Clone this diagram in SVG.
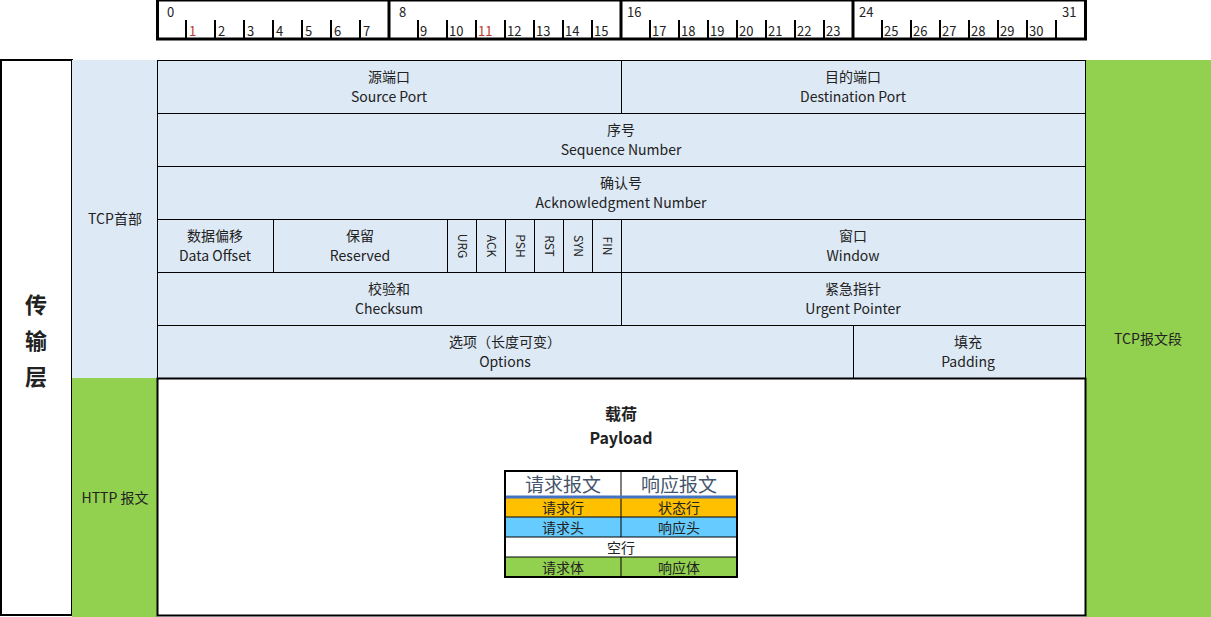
<svg xmlns="http://www.w3.org/2000/svg" width="1211" height="617" viewBox="0 0 1211 617">
<style>
text{font-family:"Microsoft YaHei","Noto Sans CJK SC","Liberation Sans",sans-serif;font-size:14px;fill:#222;text-anchor:middle}
.c{fill:#dde9f5;stroke:#000;stroke-width:1}
.t{stroke:#000;stroke-width:2}
.n{font-size:13px;text-anchor:start}
.v{font-size:12px}
</style>
<rect width="1211" height="617" fill="#fff"/>
<g id="ruler">
<rect x="157.5" y="0" width="928" height="39" fill="none" stroke="#000" stroke-width="3"/>
<g class="t">
<line x1="389" y1="0" x2="389" y2="39" stroke-width="3"/><line x1="621" y1="0" x2="621" y2="39" stroke-width="3"/><line x1="853" y1="0" x2="853" y2="39" stroke-width="3"/>
</g>
<g class="t" stroke-width="2">
<path d="M186 20V39M215 20V39M244 20V39M273 20V39M302 20V39M331 20V39M360 20V39M418 20V39M447 20V39M476 20V39M505 20V39M534 20V39M563 20V39M592 20V39M650 20V39M679 20V39M708 20V39M737 20V39M766 20V39M795 20V39M824 20V39M882 20V39M911 20V39M940 20V39M969 20V39M998 20V39M1027 20V39M1056 20V39"/>
</g>
<g class="n">
<text class="n" x="167" y="17">0</text><text class="n" x="399" y="17">8</text><text class="n" x="627" y="17">16</text><text class="n" x="859" y="17">24</text><text class="n" x="1062" y="17">31</text>
<text class="n" x="189" y="36" style="fill:#c0392b">1</text><text class="n" x="218" y="36">2</text><text class="n" x="247" y="36">3</text><text class="n" x="276" y="36">4</text><text class="n" x="305" y="36">5</text><text class="n" x="334" y="36">6</text><text class="n" x="363" y="36">7</text>
<text class="n" x="420" y="36">9</text><text class="n" x="449" y="36">10</text><text class="n" x="478" y="36" style="fill:#c0392b">11</text><text class="n" x="507" y="36">12</text><text class="n" x="536" y="36">13</text><text class="n" x="565" y="36">14</text><text class="n" x="594" y="36">15</text>
<text class="n" x="652" y="36">17</text><text class="n" x="681" y="36">18</text><text class="n" x="710" y="36">19</text><text class="n" x="739" y="36">20</text><text class="n" x="768" y="36">21</text><text class="n" x="797" y="36">22</text><text class="n" x="826" y="36">23</text>
<text class="n" x="884" y="36">25</text><text class="n" x="913" y="36">26</text><text class="n" x="942" y="36">27</text><text class="n" x="971" y="36">28</text><text class="n" x="1000" y="36">29</text><text class="n" x="1029" y="36">30</text>
</g>
</g>
<g id="layer"><rect x="1" y="60" width="71" height="555" fill="#fff" stroke="#000" stroke-width="2"/><text x="36" y="313" style="font-size:22px;font-weight:bold">传</text><text x="36" y="349" style="font-size:22px;font-weight:bold">输</text><text x="36" y="385" style="font-size:22px;font-weight:bold">层</text></g>
<g id="tcpheader"><rect x="72" y="60" width="85" height="318" fill="#dde9f5"/><text x="115" y="224">TCP首部</text></g>
<g id="http"><rect x="72" y="378" width="85" height="239" fill="#92d050"/><text x="115" y="503">HTTP 报文</text></g>
<g id="segment"><rect x="1086" y="60" width="125" height="557" fill="#92d050"/><text x="1148" y="344">TCP报文段</text></g>
<g id="srcport"><rect class="c" x="157.5" y="60.5" width="464" height="53"/><text x="389" y="82">源端口</text><text x="389" y="102">Source Port</text></g>
<g id="dstport"><rect class="c" x="621.5" y="60.5" width="464" height="53"/><text x="853" y="82">目的端口</text><text x="853" y="102">Destination Port</text></g>
<g id="seq"><rect class="c" x="157.5" y="113.5" width="928" height="53"/><text x="621" y="135">序号</text><text x="621" y="155">Sequence Number</text></g>
<g id="ack"><rect class="c" x="157.5" y="166.5" width="928" height="53"/><text x="621" y="188">确认号</text><text x="621" y="208">Acknowledgment Number</text></g>
<g id="offset"><rect class="c" x="157.5" y="219.5" width="116" height="53"/><text x="215" y="241">数据偏移</text><text x="215" y="261">Data Offset</text></g>
<g id="reserved"><rect class="c" x="273.5" y="219.5" width="174" height="53"/><text x="360" y="241">保留</text><text x="360" y="261">Reserved</text></g>
<g id="flags">
<rect class="c" x="447.5" y="219.5" width="29" height="53"/><rect class="c" x="476.5" y="219.5" width="29" height="53"/><rect class="c" x="505.5" y="219.5" width="29" height="53"/><rect class="c" x="534.5" y="219.5" width="29" height="53"/><rect class="c" x="563.5" y="219.5" width="29" height="53"/><rect class="c" x="592.5" y="219.5" width="29" height="53"/>
<text class="v" transform="translate(458,246) rotate(90)">URG</text><text class="v" transform="translate(487,246) rotate(90)">ACK</text><text class="v" transform="translate(516,246) rotate(90)">PSH</text><text class="v" transform="translate(545,246) rotate(90)">RST</text><text class="v" transform="translate(574,246) rotate(90)">SYN</text><text class="v" transform="translate(603,246) rotate(90)">FIN</text>
</g>
<g id="window"><rect class="c" x="621.5" y="219.5" width="464" height="53"/><text x="853" y="241">窗口</text><text x="853" y="261">Window</text></g>
<g id="checksum"><rect class="c" x="157.5" y="272.5" width="464" height="53"/><text x="389" y="294">校验和</text><text x="389" y="314">Checksum</text></g>
<g id="urgent"><rect class="c" x="621.5" y="272.5" width="464" height="53"/><text x="853" y="294">紧急指针</text><text x="853" y="314">Urgent Pointer</text></g>
<g id="options"><rect class="c" x="157.5" y="325.5" width="696" height="53"/><text x="505" y="347">选项（长度可变）</text><text x="505" y="367">Options</text></g>
<g id="padding"><rect class="c" x="853.5" y="325.5" width="232" height="53"/><text x="968" y="347">填充</text><text x="968" y="367">Padding</text></g>
<g id="payload"><rect x="157.5" y="378.5" width="928" height="237" fill="#fff" stroke="#000" stroke-width="2"/><text x="621" y="420" style="font-size:16px;font-weight:bold">载荷</text><text x="621" y="444" style="font-size:16px;font-weight:bold">Payload</text></g>
<g id="httptable">
<rect x="505" y="471" width="232" height="26" fill="#fff"/>
<rect x="505" y="497" width="232" height="20" fill="#ffc000"/>
<rect x="505" y="517" width="232" height="20" fill="#66ccff"/>
<rect x="505" y="537" width="232" height="20" fill="#fff"/>
<rect x="505" y="557" width="232" height="20" fill="#92d050"/>
<g stroke="#000" stroke-width="1"><path d="M505 517H737M505 537H737M505 557H737M621 471V537M621 557V577"/></g>
<line x1="505" y1="497" x2="737" y2="497" stroke="#4472c4" stroke-width="3"/>
<rect x="505" y="471" width="232" height="106" fill="none" stroke="#000" stroke-width="2"/>
<text x="563" y="492" style="font-size:19px;fill:#44546a">请求报文</text><text x="679" y="492" style="font-size:19px;fill:#44546a">响应报文</text>
<text x="563" y="513">请求行</text><text x="679" y="513">状态行</text>
<text x="563" y="533">请求头</text><text x="679" y="533">响应头</text>
<text x="621" y="553">空行</text>
<text x="563" y="573">请求体</text><text x="679" y="573">响应体</text>
</g>
</svg>
